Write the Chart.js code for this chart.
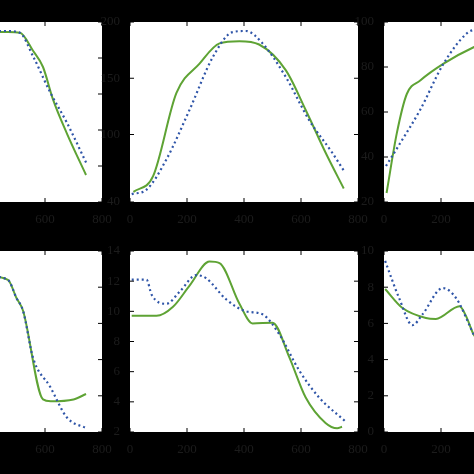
<!DOCTYPE html>
<html><head><meta charset="utf-8">
<script src="https://cdn.jsdelivr.net/npm/chart.js@4/dist/chart.umd.min.js"></script>
<style>html,body{margin:0;padding:0;background:#000;width:474px;height:474px;overflow:hidden}
.w{position:absolute}</style></head><body>
<script>
// Panel data: [x, y] pairs
const tlGreenX=[0,200,400,470,512,558,593,628,677,744];
const tlGreenY=[94.4,94.4,94.4,94.4,94,84,75,57,38,15];
const tlBlueX=[0,200,400,470,512,558,618,677,744];
const tlBlueY=[95,95,95,95,94,81,61,44,22];
const tmGreenX=[12,81,163,244,314,384,453,547,616,686,750];
const tmGreenY=[49,63,137,163,181,183,180,157,122,84,52];
const tmBlueX=[6,58,128,209,291,360,407,465,547,628,709,750];
const tmBlueY=[47,51,78,122,169,191,192,181,151,113,84,68];
const trGreenX=[9,45,80,127,209,318,420,520];
const trGreenY=[24,50.6,68,74,81.5,89,94,98];
const trBlueX=[7,56,127,209,291,318,420];
const trBlueY=[36,46,61,81.5,95,96.6,98];
const blGreenX=[0,200,400,470,500,523,593,620,700,744];
const blGreenY=[86,86,86,84,74,67,18,17,18,21];
const blBlueX=[0,200,400,470,500,523,558,618,677,747];
const blBlueY=[86,86,86,84,74,67,41,25,8,2];
const bmGreenX=[6,93,151,209,279,314,384,430,500,558,616,686,727,744];
const bmGreenY=[9.7,9.7,10.3,11.7,13.3,13.2,10.5,9.2,9.25,7.0,4.3,2.6,2.25,2.35];
const bmBlueX=[6,58,76,128,174,233,267,337,407,465,523,593,663,756];
const bmBlueY=[12.1,12.1,11.1,10.5,11.3,12.4,12.2,10.8,10.0,9.8,8.5,6.1,4.3,2.7];
const brGreenX=[4,65,147,182,265,288,314,360];
const brGreenY=[7.9,6.85,6.3,6.25,6.95,6.4,5.4,4.5];
const brBlueX=[4,53,100,135,206,253,300,314,360];
const brBlueY=[9.45,7.4,5.9,6.5,7.95,7.4,5.9,5.4,4.8];
const xTicks=[0,200,400,600,800];

const pts=(xs,ys)=>xs.map((x,i)=>({x:x,y:ys[i]}));
const YW=30,PT=10,PR=12,XH=22,PW=228;
const inside={id:'inside',beforeDraw(c){const a=c.chartArea,g=c.ctx;g.save();g.fillStyle='#fff';g.fillRect(a.left,a.top,a.right-a.left,a.bottom-a.top);g.restore();},
 afterDraw(c){const a=c.chartArea,g=c.ctx,x=c.scales.x,y=c.scales.y;g.save();g.strokeStyle='#000';g.lineWidth=1;
 x.ticks.forEach(t=>{const p=x.getPixelForValue(t.value);g.beginPath();g.moveTo(p,a.bottom);g.lineTo(p,a.bottom-4);g.moveTo(p,a.top);g.lineTo(p,a.top+4);g.stroke();});
 y.ticks.forEach(t=>{const p=y.getPixelForValue(t.value);g.beginPath();g.moveTo(a.left,p);g.lineTo(a.left+4,p);g.moveTo(a.right,p);g.lineTo(a.right-4,p);g.stroke();});
 g.restore();}};
function panel(left,top,h,gx,gy,bx,by,ymin,ymax,ystep){
 const d=document.createElement('div');d.className='w';
 d.style.left=(left-YW)+'px';d.style.top=(top-PT)+'px';d.style.width=(PW+YW+PR)+'px';d.style.height=(h+PT+XH)+'px';
 const cv=document.createElement('canvas');d.appendChild(cv);document.body.appendChild(d);
 const tk={color:'#1c1c1c',font:{family:'Liberation Serif',size:13},padding:2};
 new Chart(cv,{type:'line',data:{datasets:[
  {data:pts(bx,by),borderColor:'#2f55a8',borderWidth:2.2,borderDash:[2,3],pointRadius:0,cubicInterpolationMode:'monotone'},
  {data:pts(gx,gy),borderColor:'#5ea334',borderWidth:2,pointRadius:0,cubicInterpolationMode:'monotone'}]},
  options:{responsive:true,maintainAspectRatio:false,animation:false,events:[],
   layout:{padding:{top:PT,right:PR,left:0,bottom:0}},
   plugins:{legend:{display:false},tooltip:{enabled:false}},
   scales:{x:{type:'linear',min:0,max:800,afterBuildTicks:s=>{s.ticks=xTicks.map(v=>({value:v}));},grid:{display:false},border:{display:false},ticks:tk,afterFit:s=>{s.height=XH;}},
    y:{min:ymin,max:ymax,ticks:Object.assign({stepSize:ystep},tk),grid:{display:false},border:{display:false},afterFit:s=>{s.width=YW;}}}},
  plugins:[inside]});
}
panel(-126,22,180,tlGreenX,tlGreenY,tlBlueX,tlBlueY,0,100,20);
panel(130,22,180,tmGreenX,tmGreenY,tmBlueX,tmBlueY,40,200,50);
panel(384,22,180,trGreenX,trGreenY,trBlueX,trBlueY,20,100,20);
panel(-126,251,181,blGreenX,blGreenY,blBlueX,blBlueY,0,100,20);
panel(130,251,181,bmGreenX,bmGreenY,bmBlueX,bmBlueY,2,14,2);
panel(384,251,181,brGreenX,brGreenY,brBlueX,brBlueY,0,10,2);
</script></body></html>
